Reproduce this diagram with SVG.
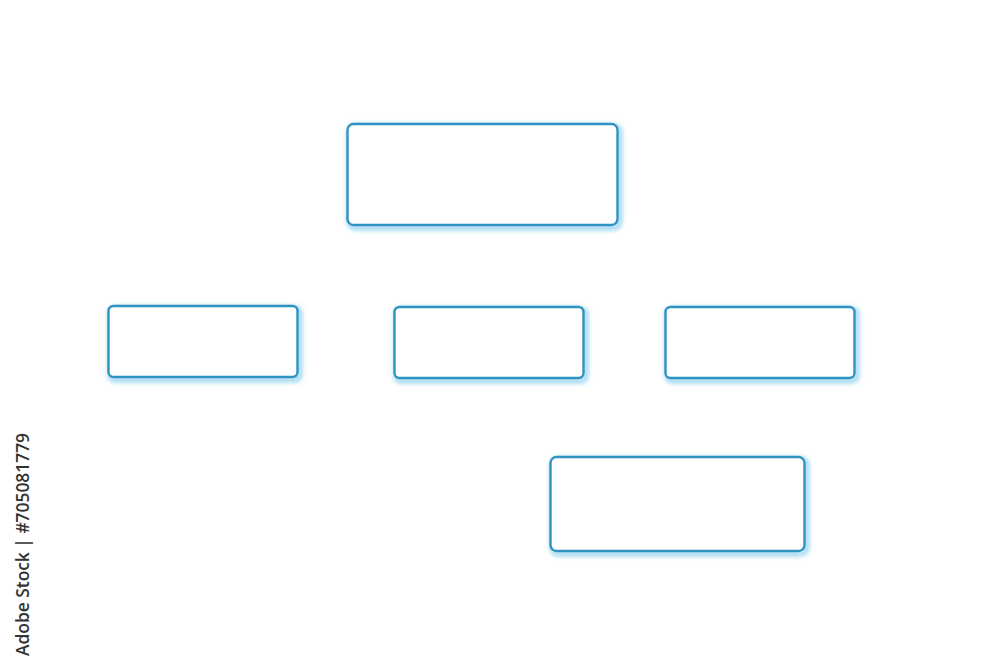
<svg xmlns="http://www.w3.org/2000/svg" width="1000" height="667" viewBox="0 0 1000 667">
<defs>
<style>
.box{fill:#ffffff;stroke:#2f93c2;stroke-width:2.4}
.glow{fill:none;stroke:#9fd8f0;stroke-width:5;filter:url(#blur)}
.wm{font-family:"Open Sans","Liberation Sans",sans-serif;font-size:17.5px;font-weight:600;fill:#333333}
</style>
<filter id="blur" x="-10%" y="-20%" width="120%" height="140%"><feGaussianBlur stdDeviation="2"/></filter>
</defs>
<rect width="1000" height="667" fill="#ffffff"/>
<g id="connectors"></g>
<g id="node-top"><rect class="glow" x="349" y="126" width="271" height="102" rx="6"/><rect class="box" x="347.5" y="124" width="270" height="101" rx="6"/></g>
<g id="node-left"><rect class="glow" x="110" y="308" width="190" height="72" rx="5"/><rect class="box" x="108.5" y="306" width="189" height="71" rx="5"/></g>
<g id="node-middle"><rect class="glow" x="396" y="309" width="190" height="72" rx="5"/><rect class="box" x="394.5" y="307" width="189" height="71" rx="5"/></g>
<g id="node-right"><rect class="glow" x="667" y="309" width="190" height="72" rx="5"/><rect class="box" x="665.5" y="307" width="189" height="71" rx="5"/></g>
<g id="node-bottom"><rect class="glow" x="552" y="459" width="255" height="95" rx="6"/><rect class="box" x="550.5" y="457" width="254" height="94" rx="6"/></g>
<text class="wm" transform="translate(29,656) rotate(-90)" textLength="223" lengthAdjust="spacingAndGlyphs">Adobe Stock | #705081779</text>
</svg>
